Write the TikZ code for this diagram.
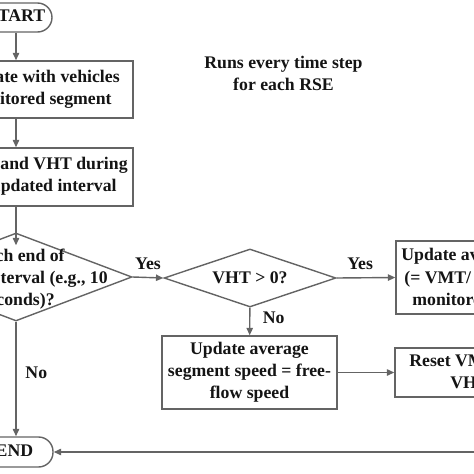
\documentclass[tikz,border=0pt]{standalone}
\usepackage{fontspec}
\setmainfont{Liberation Serif}
\usetikzlibrary{shapes.geometric,arrows.meta,positioning,calc}
\definecolor{linegray}{HTML}{646464}
\definecolor{inkdark}{HTML}{141414}

\begin{document}
\begin{tikzpicture}[x=0.02cm,y=-0.02cm,
    font=\fontsize{10.1}{12.6}\selectfont\bfseries,
    box/.style={draw=linegray,line width=0.8pt,inner sep=0pt},
    term/.style={box,rounded corners=0.29cm},
    decision/.style={box,diamond,aspect=2.9},
    txt/.style={text=inkdark,inner sep=0pt,text height=0.7em,text depth=0.22em},
    lbl/.style={text=inkdark,inner sep=1pt},
    arr/.style={draw=linegray,line width=0.8pt,-{Triangle[length=4.2pt,width=3.6pt]}}]
        \useasboundingbox (0,0) rectangle (474,474);
        \clip (0,0) rectangle (474,474);
        % left column
        \node [term, minimum width=1.44cm, minimum height=0.58cm] (start) at (16,17.5) {};
        \node [txt, anchor=east] (t0) at (45.5,17.5) {TART};
        \node [box, minimum width=4.68cm, minimum height=1.14cm] (upd) at (16,89.5) {};
        \node [txt, anchor=east] (t1) at (120,78) {ate with vehicles};
        \node [txt, anchor=east] (t2) at (112,100) {nitored segment};
        \node [box, minimum width=4.68cm, minimum height=1.16cm] (acc) at (16,177) {};
        \node [txt, anchor=east] (t3) at (128,165) {T and VHT during};
        \node [txt, anchor=east] (t4) at (117,187) {updated interval};
        \node [decision, minimum width=4.64cm, minimum height=1.76cm] (chk) at (16,277) {};
        \node [txt, anchor=east] (t5) at (65,257) {ch end of};
        \node [txt, anchor=east] (t6) at (108,279) {terval (e.g., 10};
        \node [txt, anchor=east] (t7) at (55,301) {conds)?};
        \node [term, minimum width=1.48cm, minimum height=0.6cm] (end) at (16,452) {};
        \node [txt, anchor=east] (t8) at (33.5,452) {END};
        % middle
        \node [txt, align=center] (note) at (283.5,86.5) {Runs every time step\\for each RSE};
        \node [decision, minimum width=3.44cm, minimum height=1.16cm, text=inkdark] (vht) at (250,278) {VHT > 0?};
        \node [box, minimum width=3.5cm, minimum height=1.46cm, align=center, text=inkdark] (free) at (249.5,372.5)
            {Update average\\segment speed = free-\\flow speed};
        % right column
        \node [box, minimum width=3.2cm, minimum height=1.46cm] (avg) at (476,277.5) {};
        \node [txt, anchor=west] (t9) at (401,256) {Update av};
        \node [txt, anchor=west] (t10) at (404,279) {(= VMT/};
        \node [txt, anchor=west] (t11) at (412,301) {monitore};
        \node [box, minimum width=3.2cm, minimum height=0.98cm] (reset) at (475,372.5) {};
        \node [txt, anchor=west] (t12) at (409,362) {Reset VM};
        \node [txt, anchor=west] (t13) at (450,384) {VH};
        \coordinate (back) at (490,452);
        % connectors
        \draw [arr] (start) -- (upd);
        \draw [arr] (upd) -- (acc);
        \draw [arr] (acc.south) -- ($(chk.north)+(0,13)$);
        \draw [arr] (chk.east) -- node [lbl, above=3pt] (yes1) {Yes} (vht.west);
        \draw [arr] (vht.east) -- node [lbl, above=3pt, pos=0.4] (yes2) {Yes} (avg.west);
        \draw [arr] (vht) -- node [lbl, right=6pt, pos=0.35] (no1) {No} (free);
        \draw [arr] (free) -- (reset);
        \draw [arr] (chk) -- node [lbl, right=4pt, pos=0.45] (no2) {No} (end);
        \draw [arr] (back) -- (end);
      \end{tikzpicture}
\end{document}
